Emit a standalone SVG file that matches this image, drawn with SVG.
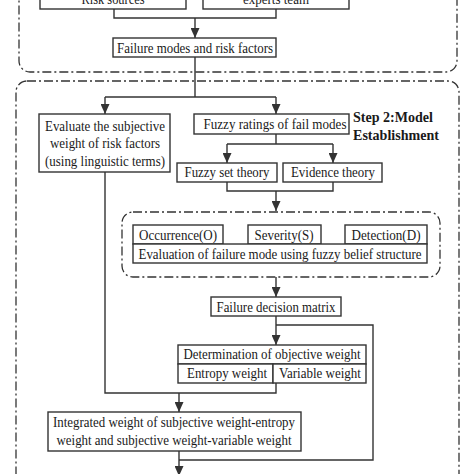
<svg xmlns="http://www.w3.org/2000/svg" width="474" height="474" viewBox="0 0 474 474">
<defs>
<style>
.box{fill:#fff;stroke:#333;stroke-width:1.4}
.grp{fill:none;stroke:#333;stroke-width:1.3;stroke-dasharray:9 3 2 3}
.ln{fill:none;stroke:#333;stroke-width:1.4}
text{font-family:"Liberation Serif","Times New Roman",serif;font-size:15px;fill:#1a1a1a;text-anchor:middle}
.b{font-weight:bold;text-anchor:start;font-size:15.5px}
</style>
<marker id="ar" markerUnits="userSpaceOnUse" markerWidth="10" markerHeight="9" refX="10" refY="4.5" orient="auto">
<path d="M0,0 L10,4.5 L0,9 z" fill="#333"/>
</marker>
</defs>
<rect width="474" height="474" fill="#fff"/>
<g id="groups">
<rect class="grp" x="19" y="-40" width="438" height="112" rx="11"/>
<rect class="grp" x="16" y="81" width="443" height="430" rx="11"/>
<rect class="grp" x="122" y="212" width="318" height="65" rx="11"/>
</g>
<g id="connectors">
<path class="ln" d="M114,9 V18 H276 V9"/>
<path class="ln" d="M195,18 V38" marker-end="url(#ar)"/>
<path class="ln" d="M195,57 V97"/>
<path class="ln" d="M105,97 H276"/>
<path class="ln" d="M105,97 V114" marker-end="url(#ar)"/>
<path class="ln" d="M276,97 V114" marker-end="url(#ar)"/>
<path class="ln" d="M276,134 V144"/>
<path class="ln" d="M227,144 H333"/>
<path class="ln" d="M227,144 V163" marker-end="url(#ar)"/>
<path class="ln" d="M333,144 V163" marker-end="url(#ar)"/>
<path class="ln" d="M227,182 V191 H333 V182"/>
<path class="ln" d="M276,191 V211" marker-end="url(#ar)"/>
<path class="ln" d="M276,277 V297" marker-end="url(#ar)"/>
<path class="ln" d="M276,316 V345" marker-end="url(#ar)"/>
<path class="ln" d="M276,325 H373 V460 H179"/>
<path class="ln" d="M105,172 V393 H276 V383"/>
<path class="ln" d="M179,393 V412" marker-end="url(#ar)"/>
<path class="ln" d="M179,451 V476" marker-end="url(#ar)"/>
</g>
<g id="risk-sources">
<rect class="box" x="40" y="-20" width="146" height="29"/>
<text x="113" y="4" textLength="63" lengthAdjust="spacingAndGlyphs">Risk sources</text>
</g>
<g id="experts-team">
<rect class="box" x="203" y="-20" width="146" height="29"/>
<text x="276" y="4" textLength="66" lengthAdjust="spacingAndGlyphs">experts team</text>
</g>
<g id="failure-modes">
<rect class="box" x="113" y="38" width="163" height="19"/>
<text x="195" y="53" textLength="156" lengthAdjust="spacingAndGlyphs">Failure modes and risk factors</text>
</g>
<g id="evaluate-subjective">
<rect class="box" x="39" y="114" width="131" height="58"/>
<text x="105" y="131" textLength="120" lengthAdjust="spacingAndGlyphs">Evaluate the subjective</text>
<text x="105" y="148" textLength="110" lengthAdjust="spacingAndGlyphs">weight of risk factors</text>
<text x="105" y="166" textLength="120" lengthAdjust="spacingAndGlyphs">(using linguistic terms)</text>
</g>
<g id="fuzzy-ratings">
<rect class="box" x="194" y="114" width="155" height="20"/>
<text x="275" y="129" textLength="143" lengthAdjust="spacingAndGlyphs">Fuzzy ratings of fail modes</text>
</g>
<g id="step2-label">
<text class="b" x="353" y="122" textLength="80" lengthAdjust="spacingAndGlyphs">Step 2:Model</text>
<text class="b" x="353" y="140" textLength="86" lengthAdjust="spacingAndGlyphs">Establishment</text>
</g>
<g id="fuzzy-set">
<rect class="box" x="177" y="163" width="100" height="19"/>
<text x="227" y="177" textLength="85" lengthAdjust="spacingAndGlyphs">Fuzzy set theory</text>
</g>
<g id="evidence">
<rect class="box" x="283" y="163" width="99" height="19"/>
<text x="333" y="177" textLength="84" lengthAdjust="spacingAndGlyphs">Evidence theory</text>
</g>
<g id="occurrence">
<rect class="box" x="133" y="225" width="90" height="19"/>
<text x="178" y="240" textLength="78" lengthAdjust="spacingAndGlyphs">Occurrence(O)</text>
</g>
<g id="severity">
<rect class="box" x="248" y="225" width="73" height="19"/>
<text x="284" y="240" textLength="59" lengthAdjust="spacingAndGlyphs">Severity(S)</text>
</g>
<g id="detection">
<rect class="box" x="345" y="225" width="82" height="19"/>
<text x="386" y="240" textLength="69" lengthAdjust="spacingAndGlyphs">Detection(D)</text>
</g>
<g id="evaluation-fuzzy-belief">
<rect class="box" x="133" y="244" width="294" height="19"/>
<text x="280" y="259" textLength="283" lengthAdjust="spacingAndGlyphs">Evaluation of failure mode using fuzzy belief structure</text>
</g>
<g id="failure-decision-matrix">
<rect class="box" x="211" y="297" width="130" height="19"/>
<text x="276" y="312" textLength="119" lengthAdjust="spacingAndGlyphs">Failure decision matrix</text>
</g>
<g id="objective-weight">
<rect class="box" x="178" y="345" width="188" height="19"/>
<text x="272" y="359" textLength="177" lengthAdjust="spacingAndGlyphs">Determination of objective weight</text>
</g>
<g id="entropy-weight">
<rect class="box" x="178" y="364" width="95" height="19"/>
<text x="227" y="378" textLength="80" lengthAdjust="spacingAndGlyphs">Entropy weight</text>
</g>
<g id="variable-weight">
<rect class="box" x="273" y="364" width="93" height="19"/>
<text x="320" y="378" textLength="82" lengthAdjust="spacingAndGlyphs">Variable weight</text>
</g>
<g id="integrated-weight">
<rect class="box" x="48" y="412" width="253" height="39"/>
<text x="174" y="427" textLength="242" lengthAdjust="spacingAndGlyphs">Integrated weight of subjective weight-entropy</text>
<text x="174" y="445" textLength="235" lengthAdjust="spacingAndGlyphs">weight and subjective weight-variable weight</text>
</g>
</svg>
